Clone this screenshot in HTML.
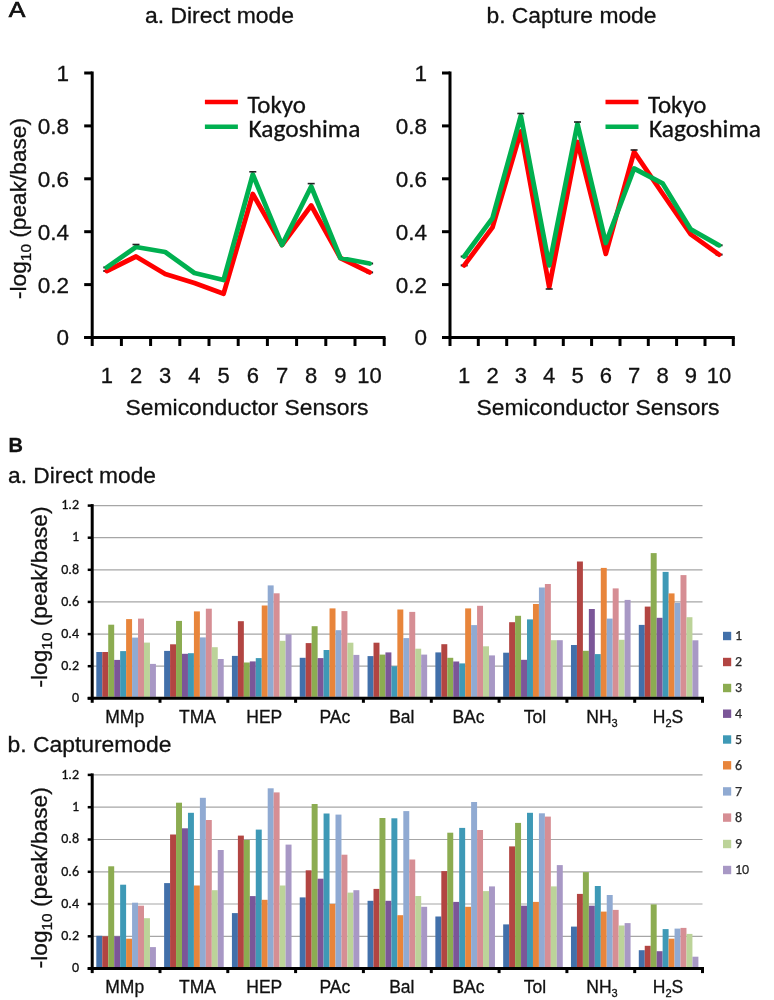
<!DOCTYPE html>
<html><head><meta charset="utf-8"><title>Figure</title>
<style>
html,body{margin:0;padding:0;background:#fff;}
body{width:774px;height:1000px;overflow:hidden;}
svg{display:block;}
</style></head>
<body>
<svg width="774" height="1000" viewBox="0 0 774 1000">
<rect width="774" height="1000" fill="#fff"/>
<text x="8.8" y="17.0" font-size="21.5" font-family='"Liberation Sans", Arial, sans-serif' text-anchor="start" fill="#111" textLength="16.6" lengthAdjust="spacingAndGlyphs" stroke="#111" stroke-width="0.7">A</text>
<line x1="92.2" y1="71.5" x2="92.2" y2="346" stroke="#000" stroke-width="3"/>
<line x1="84.2" y1="337.5" x2="385.5" y2="337.5" stroke="#000" stroke-width="3"/>
<line x1="84.2" y1="337.5" x2="92.2" y2="337.5" stroke="#000" stroke-width="3"/>
<text x="69.0" y="345.4" font-size="22.5" font-family='"Liberation Sans", Arial, sans-serif' text-anchor="end" fill="#111" stroke="#111" stroke-width="0.3">0</text>
<line x1="84.2" y1="284.6" x2="92.2" y2="284.6" stroke="#000" stroke-width="3"/>
<text x="69.0" y="292.5" font-size="22.5" font-family='"Liberation Sans", Arial, sans-serif' text-anchor="end" fill="#111" stroke="#111" stroke-width="0.3">0.2</text>
<line x1="84.2" y1="231.7" x2="92.2" y2="231.7" stroke="#000" stroke-width="3"/>
<text x="69.0" y="239.6" font-size="22.5" font-family='"Liberation Sans", Arial, sans-serif' text-anchor="end" fill="#111" stroke="#111" stroke-width="0.3">0.4</text>
<line x1="84.2" y1="178.8" x2="92.2" y2="178.8" stroke="#000" stroke-width="3"/>
<text x="69.0" y="186.7" font-size="22.5" font-family='"Liberation Sans", Arial, sans-serif' text-anchor="end" fill="#111" stroke="#111" stroke-width="0.3">0.6</text>
<line x1="84.2" y1="125.9" x2="92.2" y2="125.9" stroke="#000" stroke-width="3"/>
<text x="69.0" y="133.8" font-size="22.5" font-family='"Liberation Sans", Arial, sans-serif' text-anchor="end" fill="#111" stroke="#111" stroke-width="0.3">0.8</text>
<line x1="84.2" y1="73.0" x2="92.2" y2="73.0" stroke="#000" stroke-width="3"/>
<text x="69.0" y="80.9" font-size="22.5" font-family='"Liberation Sans", Arial, sans-serif' text-anchor="end" fill="#111" stroke="#111" stroke-width="0.3">1</text>
<line x1="121.4" y1="337.5" x2="121.4" y2="346" stroke="#000" stroke-width="3"/>
<line x1="150.6" y1="337.5" x2="150.6" y2="346" stroke="#000" stroke-width="3"/>
<line x1="179.8" y1="337.5" x2="179.8" y2="346" stroke="#000" stroke-width="3"/>
<line x1="209.0" y1="337.5" x2="209.0" y2="346" stroke="#000" stroke-width="3"/>
<line x1="238.2" y1="337.5" x2="238.2" y2="346" stroke="#000" stroke-width="3"/>
<line x1="267.4" y1="337.5" x2="267.4" y2="346" stroke="#000" stroke-width="3"/>
<line x1="296.6" y1="337.5" x2="296.6" y2="346" stroke="#000" stroke-width="3"/>
<line x1="325.8" y1="337.5" x2="325.8" y2="346" stroke="#000" stroke-width="3"/>
<line x1="355.0" y1="337.5" x2="355.0" y2="346" stroke="#000" stroke-width="3"/>
<line x1="384.2" y1="337.5" x2="384.2" y2="346" stroke="#000" stroke-width="3"/>
<text x="106.8" y="383.0" font-size="22" font-family='"Liberation Sans", Arial, sans-serif' text-anchor="middle" fill="#111" stroke="#111" stroke-width="0.3">1</text>
<text x="136.0" y="383.0" font-size="22" font-family='"Liberation Sans", Arial, sans-serif' text-anchor="middle" fill="#111" stroke="#111" stroke-width="0.3">2</text>
<text x="165.2" y="383.0" font-size="22" font-family='"Liberation Sans", Arial, sans-serif' text-anchor="middle" fill="#111" stroke="#111" stroke-width="0.3">3</text>
<text x="194.4" y="383.0" font-size="22" font-family='"Liberation Sans", Arial, sans-serif' text-anchor="middle" fill="#111" stroke="#111" stroke-width="0.3">4</text>
<text x="223.6" y="383.0" font-size="22" font-family='"Liberation Sans", Arial, sans-serif' text-anchor="middle" fill="#111" stroke="#111" stroke-width="0.3">5</text>
<text x="252.8" y="383.0" font-size="22" font-family='"Liberation Sans", Arial, sans-serif' text-anchor="middle" fill="#111" stroke="#111" stroke-width="0.3">6</text>
<text x="282.0" y="383.0" font-size="22" font-family='"Liberation Sans", Arial, sans-serif' text-anchor="middle" fill="#111" stroke="#111" stroke-width="0.3">7</text>
<text x="311.2" y="383.0" font-size="22" font-family='"Liberation Sans", Arial, sans-serif' text-anchor="middle" fill="#111" stroke="#111" stroke-width="0.3">8</text>
<text x="340.4" y="383.0" font-size="22" font-family='"Liberation Sans", Arial, sans-serif' text-anchor="middle" fill="#111" stroke="#111" stroke-width="0.3">9</text>
<text x="369.6" y="383.0" font-size="22" font-family='"Liberation Sans", Arial, sans-serif' text-anchor="middle" fill="#111" stroke="#111" stroke-width="0.3">10</text>
<line x1="103.3" y1="271.0" x2="110.3" y2="271.0" stroke="#222" stroke-width="2"/>
<line x1="366.1" y1="272.4" x2="373.1" y2="272.4" stroke="#222" stroke-width="2"/>
<line x1="103.3" y1="267.4" x2="110.3" y2="267.4" stroke="#222" stroke-width="2"/>
<line x1="366.1" y1="263.5" x2="373.1" y2="263.5" stroke="#222" stroke-width="2"/>
<polyline points="106.8,271.0 136.0,256.5 165.2,274.0 194.4,283.0 223.6,293.7 252.8,194.0 282.0,245.0 311.2,205.5 340.4,258.0 369.6,272.4" fill="none" stroke="#FF0000" stroke-width="4.8" stroke-linejoin="round" stroke-linecap="round"/>
<polyline points="106.8,267.4 136.0,247.0 165.2,252.0 194.4,273.0 223.6,280.0 252.8,174.5 282.0,245.0 311.2,186.5 340.4,258.0 369.6,263.5" fill="none" stroke="#00B050" stroke-width="4.8" stroke-linejoin="round" stroke-linecap="round"/>
<line x1="249.3" y1="171.8" x2="256.3" y2="171.8" stroke="#222" stroke-width="1.6"/>
<line x1="307.7" y1="183.6" x2="314.7" y2="183.6" stroke="#222" stroke-width="1.6"/>
<line x1="132.5" y1="244.5" x2="139.5" y2="244.5" stroke="#222" stroke-width="1.6"/>
<line x1="204.9" y1="102.1" x2="237.9" y2="102.1" stroke="#FF0000" stroke-width="4.5"/>
<line x1="204.9" y1="126.7" x2="237.9" y2="126.7" stroke="#00B050" stroke-width="4.5"/>
<text x="247.4" y="112.5" font-size="24" font-family='Carlito, Calibri, "Liberation Sans", sans-serif' text-anchor="start" fill="#111" stroke="#111" stroke-width="0.3" textLength="58.5" lengthAdjust="spacingAndGlyphs">Tokyo</text>
<text x="248.4" y="136.6" font-size="24" font-family='Carlito, Calibri, "Liberation Sans", sans-serif' text-anchor="start" fill="#111" stroke="#111" stroke-width="0.3" textLength="112.0" lengthAdjust="spacingAndGlyphs">Kagoshima</text>
<text x="145.0" y="22.5" font-size="22" font-family='"Liberation Sans", Arial, sans-serif' text-anchor="start" fill="#111" stroke="#111" stroke-width="0.3" textLength="149.0" lengthAdjust="spacingAndGlyphs">a. Direct mode</text>
<text x="125.5" y="415.0" font-size="22.3" font-family='"Liberation Sans", Arial, sans-serif' text-anchor="start" fill="#111" stroke="#111" stroke-width="0.3" textLength="243.0" lengthAdjust="spacingAndGlyphs">Semiconductor Sensors</text>
<line x1="450.0" y1="71.5" x2="450.0" y2="346" stroke="#000" stroke-width="3"/>
<line x1="442.0" y1="337.5" x2="734.8" y2="337.5" stroke="#000" stroke-width="3"/>
<line x1="442.0" y1="337.5" x2="450.0" y2="337.5" stroke="#000" stroke-width="3"/>
<text x="427.0" y="345.4" font-size="22.5" font-family='"Liberation Sans", Arial, sans-serif' text-anchor="end" fill="#111" stroke="#111" stroke-width="0.3">0</text>
<line x1="442.0" y1="284.6" x2="450.0" y2="284.6" stroke="#000" stroke-width="3"/>
<text x="427.0" y="292.5" font-size="22.5" font-family='"Liberation Sans", Arial, sans-serif' text-anchor="end" fill="#111" stroke="#111" stroke-width="0.3">0.2</text>
<line x1="442.0" y1="231.7" x2="450.0" y2="231.7" stroke="#000" stroke-width="3"/>
<text x="427.0" y="239.6" font-size="22.5" font-family='"Liberation Sans", Arial, sans-serif' text-anchor="end" fill="#111" stroke="#111" stroke-width="0.3">0.4</text>
<line x1="442.0" y1="178.8" x2="450.0" y2="178.8" stroke="#000" stroke-width="3"/>
<text x="427.0" y="186.7" font-size="22.5" font-family='"Liberation Sans", Arial, sans-serif' text-anchor="end" fill="#111" stroke="#111" stroke-width="0.3">0.6</text>
<line x1="442.0" y1="125.9" x2="450.0" y2="125.9" stroke="#000" stroke-width="3"/>
<text x="427.0" y="133.8" font-size="22.5" font-family='"Liberation Sans", Arial, sans-serif' text-anchor="end" fill="#111" stroke="#111" stroke-width="0.3">0.8</text>
<line x1="442.0" y1="73.0" x2="450.0" y2="73.0" stroke="#000" stroke-width="3"/>
<text x="427.0" y="80.9" font-size="22.5" font-family='"Liberation Sans", Arial, sans-serif' text-anchor="end" fill="#111" stroke="#111" stroke-width="0.3">1</text>
<line x1="478.3" y1="337.5" x2="478.3" y2="346" stroke="#000" stroke-width="3"/>
<line x1="506.7" y1="337.5" x2="506.7" y2="346" stroke="#000" stroke-width="3"/>
<line x1="535.0" y1="337.5" x2="535.0" y2="346" stroke="#000" stroke-width="3"/>
<line x1="563.3" y1="337.5" x2="563.3" y2="346" stroke="#000" stroke-width="3"/>
<line x1="591.6" y1="337.5" x2="591.6" y2="346" stroke="#000" stroke-width="3"/>
<line x1="620.0" y1="337.5" x2="620.0" y2="346" stroke="#000" stroke-width="3"/>
<line x1="648.3" y1="337.5" x2="648.3" y2="346" stroke="#000" stroke-width="3"/>
<line x1="676.6" y1="337.5" x2="676.6" y2="346" stroke="#000" stroke-width="3"/>
<line x1="705.0" y1="337.5" x2="705.0" y2="346" stroke="#000" stroke-width="3"/>
<line x1="733.3" y1="337.5" x2="733.3" y2="346" stroke="#000" stroke-width="3"/>
<text x="464.2" y="383.0" font-size="22" font-family='"Liberation Sans", Arial, sans-serif' text-anchor="middle" fill="#111" stroke="#111" stroke-width="0.3">1</text>
<text x="492.5" y="383.0" font-size="22" font-family='"Liberation Sans", Arial, sans-serif' text-anchor="middle" fill="#111" stroke="#111" stroke-width="0.3">2</text>
<text x="520.8" y="383.0" font-size="22" font-family='"Liberation Sans", Arial, sans-serif' text-anchor="middle" fill="#111" stroke="#111" stroke-width="0.3">3</text>
<text x="549.2" y="383.0" font-size="22" font-family='"Liberation Sans", Arial, sans-serif' text-anchor="middle" fill="#111" stroke="#111" stroke-width="0.3">4</text>
<text x="577.5" y="383.0" font-size="22" font-family='"Liberation Sans", Arial, sans-serif' text-anchor="middle" fill="#111" stroke="#111" stroke-width="0.3">5</text>
<text x="605.8" y="383.0" font-size="22" font-family='"Liberation Sans", Arial, sans-serif' text-anchor="middle" fill="#111" stroke="#111" stroke-width="0.3">6</text>
<text x="634.1" y="383.0" font-size="22" font-family='"Liberation Sans", Arial, sans-serif' text-anchor="middle" fill="#111" stroke="#111" stroke-width="0.3">7</text>
<text x="662.5" y="383.0" font-size="22" font-family='"Liberation Sans", Arial, sans-serif' text-anchor="middle" fill="#111" stroke="#111" stroke-width="0.3">8</text>
<text x="690.8" y="383.0" font-size="22" font-family='"Liberation Sans", Arial, sans-serif' text-anchor="middle" fill="#111" stroke="#111" stroke-width="0.3">9</text>
<text x="719.1" y="383.0" font-size="22" font-family='"Liberation Sans", Arial, sans-serif' text-anchor="middle" fill="#111" stroke="#111" stroke-width="0.3">10</text>
<line x1="460.7" y1="265.4" x2="467.7" y2="265.4" stroke="#222" stroke-width="2"/>
<line x1="715.6" y1="254.6" x2="722.6" y2="254.6" stroke="#222" stroke-width="2"/>
<line x1="460.7" y1="256.5" x2="467.7" y2="256.5" stroke="#222" stroke-width="2"/>
<line x1="715.6" y1="245.3" x2="722.6" y2="245.3" stroke="#222" stroke-width="2"/>
<polyline points="464.2,265.4 492.5,227.4 520.8,131.4 549.2,287.0 577.5,142.0 605.8,253.8 634.1,151.9 662.5,193.5 690.8,234.4 719.1,254.6" fill="none" stroke="#FF0000" stroke-width="4.8" stroke-linejoin="round" stroke-linecap="round"/>
<polyline points="464.2,256.5 492.5,218.1 520.8,116.0 549.2,265.4 577.5,124.0 605.8,243.0 634.1,168.5 662.5,183.3 690.8,229.4 719.1,245.3" fill="none" stroke="#00B050" stroke-width="4.8" stroke-linejoin="round" stroke-linecap="round"/>
<line x1="517.3" y1="113.5" x2="524.3" y2="113.5" stroke="#222" stroke-width="1.6"/>
<line x1="574.0" y1="122.0" x2="581.0" y2="122.0" stroke="#222" stroke-width="1.6"/>
<line x1="630.6" y1="150.0" x2="637.6" y2="150.0" stroke="#222" stroke-width="1.6"/>
<line x1="545.7" y1="289.0" x2="552.7" y2="289.0" stroke="#222" stroke-width="1.6"/>
<line x1="605.5" y1="102.1" x2="638.5" y2="102.1" stroke="#FF0000" stroke-width="4.5"/>
<line x1="605.5" y1="126.7" x2="638.5" y2="126.7" stroke="#00B050" stroke-width="4.5"/>
<text x="648.0" y="112.5" font-size="24" font-family='Carlito, Calibri, "Liberation Sans", sans-serif' text-anchor="start" fill="#111" stroke="#111" stroke-width="0.3" textLength="58.5" lengthAdjust="spacingAndGlyphs">Tokyo</text>
<text x="649.0" y="136.6" font-size="24" font-family='Carlito, Calibri, "Liberation Sans", sans-serif' text-anchor="start" fill="#111" stroke="#111" stroke-width="0.3" textLength="112.0" lengthAdjust="spacingAndGlyphs">Kagoshima</text>
<text x="486.5" y="22.5" font-size="22" font-family='"Liberation Sans", Arial, sans-serif' text-anchor="start" fill="#111" stroke="#111" stroke-width="0.3" textLength="170.0" lengthAdjust="spacingAndGlyphs">b. Capture mode</text>
<text x="476.5" y="415.0" font-size="22.3" font-family='"Liberation Sans", Arial, sans-serif' text-anchor="start" fill="#111" stroke="#111" stroke-width="0.3" textLength="243.0" lengthAdjust="spacingAndGlyphs">Semiconductor Sensors</text>
<text transform="translate(25.9,208.5) rotate(-90)" x="0" y="0" font-size="22.5" font-family='"Liberation Sans", Arial, sans-serif' text-anchor="middle" fill="#111" stroke="#111" stroke-width="0.3" textLength="181.0" lengthAdjust="spacingAndGlyphs">-log<tspan font-size="15.3" dy="5">10</tspan><tspan dy="-5"> (peak/base)</tspan></text>
<text x="8.5" y="451.9" font-size="20" font-family='"Liberation Sans", Arial, sans-serif' text-anchor="start" fill="#111" stroke="#111" stroke-width="0.3" font-weight="bold">B</text>
<text x="8.0" y="482.5" font-size="22" font-family='"Liberation Sans", Arial, sans-serif' text-anchor="start" fill="#111" stroke="#111" stroke-width="0.3" textLength="148.0" lengthAdjust="spacingAndGlyphs">a. Direct mode</text>
<line x1="92.2" y1="666.2" x2="702.5" y2="666.2" stroke="#A6A6A6" stroke-width="1.2"/>
<line x1="92.2" y1="634.1" x2="702.5" y2="634.1" stroke="#A6A6A6" stroke-width="1.2"/>
<line x1="92.2" y1="601.9" x2="702.5" y2="601.9" stroke="#A6A6A6" stroke-width="1.2"/>
<line x1="92.2" y1="569.8" x2="702.5" y2="569.8" stroke="#A6A6A6" stroke-width="1.2"/>
<line x1="92.2" y1="537.7" x2="702.5" y2="537.7" stroke="#A6A6A6" stroke-width="1.2"/>
<line x1="92.2" y1="505.6" x2="702.5" y2="505.6" stroke="#A6A6A6" stroke-width="1.2"/>
<rect x="96.31" y="652.0" width="5.96" height="44.8" fill="#4270AA"/>
<rect x="102.27" y="652.0" width="5.96" height="44.8" fill="#B24542"/>
<rect x="108.23" y="624.7" width="5.96" height="72.1" fill="#8CAC51"/>
<rect x="114.19" y="659.9" width="5.96" height="36.9" fill="#7B5698"/>
<rect x="120.15" y="651.1" width="5.96" height="45.7" fill="#3E99B6"/>
<rect x="126.11" y="619.1" width="5.96" height="77.7" fill="#E8853B"/>
<rect x="132.07" y="637.6" width="5.96" height="59.2" fill="#90AAD2"/>
<rect x="138.03" y="618.6" width="5.96" height="78.2" fill="#D68E94"/>
<rect x="143.99" y="642.6" width="5.96" height="54.2" fill="#BCD399"/>
<rect x="149.95" y="663.9" width="5.96" height="32.9" fill="#A898C5"/>
<rect x="164.12" y="650.9" width="5.96" height="45.9" fill="#4270AA"/>
<rect x="170.08" y="644.3" width="5.96" height="52.5" fill="#B24542"/>
<rect x="176.04" y="620.9" width="5.96" height="75.9" fill="#8CAC51"/>
<rect x="182.00" y="653.8" width="5.96" height="43.0" fill="#7B5698"/>
<rect x="187.96" y="653.2" width="5.96" height="43.6" fill="#3E99B6"/>
<rect x="193.92" y="611.4" width="5.96" height="85.4" fill="#E8853B"/>
<rect x="199.88" y="637.4" width="5.96" height="59.4" fill="#90AAD2"/>
<rect x="205.84" y="608.7" width="5.96" height="88.1" fill="#D68E94"/>
<rect x="211.80" y="647.2" width="5.96" height="49.6" fill="#BCD399"/>
<rect x="217.76" y="659.0" width="5.96" height="37.8" fill="#A898C5"/>
<rect x="231.93" y="655.9" width="5.96" height="40.9" fill="#4270AA"/>
<rect x="237.89" y="621.2" width="5.96" height="75.6" fill="#B24542"/>
<rect x="243.85" y="662.5" width="5.96" height="34.3" fill="#8CAC51"/>
<rect x="249.81" y="661.4" width="5.96" height="35.4" fill="#7B5698"/>
<rect x="255.77" y="658.1" width="5.96" height="38.6" fill="#3E99B6"/>
<rect x="261.73" y="605.5" width="5.96" height="91.3" fill="#E8853B"/>
<rect x="267.69" y="585.4" width="5.96" height="111.4" fill="#90AAD2"/>
<rect x="273.65" y="593.3" width="5.96" height="103.5" fill="#D68E94"/>
<rect x="279.61" y="640.8" width="5.96" height="56.0" fill="#BCD399"/>
<rect x="285.57" y="634.4" width="5.96" height="62.4" fill="#A898C5"/>
<rect x="299.74" y="657.8" width="5.96" height="39.0" fill="#4270AA"/>
<rect x="305.70" y="643.1" width="5.96" height="53.7" fill="#B24542"/>
<rect x="311.66" y="626.2" width="5.96" height="70.6" fill="#8CAC51"/>
<rect x="317.62" y="658.1" width="5.96" height="38.6" fill="#7B5698"/>
<rect x="323.58" y="650.0" width="5.96" height="46.8" fill="#3E99B6"/>
<rect x="329.54" y="608.4" width="5.96" height="88.4" fill="#E8853B"/>
<rect x="335.50" y="630.2" width="5.96" height="66.6" fill="#90AAD2"/>
<rect x="341.46" y="611.1" width="5.96" height="85.7" fill="#D68E94"/>
<rect x="347.42" y="642.7" width="5.96" height="54.1" fill="#BCD399"/>
<rect x="353.38" y="654.9" width="5.96" height="41.9" fill="#A898C5"/>
<rect x="367.55" y="656.1" width="5.96" height="40.7" fill="#4270AA"/>
<rect x="373.51" y="642.7" width="5.96" height="54.1" fill="#B24542"/>
<rect x="379.47" y="654.6" width="5.96" height="42.2" fill="#8CAC51"/>
<rect x="385.43" y="652.4" width="5.96" height="44.4" fill="#7B5698"/>
<rect x="391.39" y="666.2" width="5.96" height="30.6" fill="#3E99B6"/>
<rect x="397.35" y="609.5" width="5.96" height="87.3" fill="#E8853B"/>
<rect x="403.31" y="638.1" width="5.96" height="58.7" fill="#90AAD2"/>
<rect x="409.27" y="611.9" width="5.96" height="84.9" fill="#D68E94"/>
<rect x="415.23" y="648.7" width="5.96" height="48.1" fill="#BCD399"/>
<rect x="421.19" y="654.6" width="5.96" height="42.2" fill="#A898C5"/>
<rect x="435.36" y="652.4" width="5.96" height="44.4" fill="#4270AA"/>
<rect x="441.32" y="644.2" width="5.96" height="52.6" fill="#B24542"/>
<rect x="447.28" y="657.8" width="5.96" height="39.0" fill="#8CAC51"/>
<rect x="453.24" y="661.5" width="5.96" height="35.3" fill="#7B5698"/>
<rect x="459.20" y="663.4" width="5.96" height="33.4" fill="#3E99B6"/>
<rect x="465.16" y="608.4" width="5.96" height="88.4" fill="#E8853B"/>
<rect x="471.12" y="625.1" width="5.96" height="71.7" fill="#90AAD2"/>
<rect x="477.08" y="605.8" width="5.96" height="91.0" fill="#D68E94"/>
<rect x="483.04" y="646.3" width="5.96" height="50.5" fill="#BCD399"/>
<rect x="489.00" y="655.4" width="5.96" height="41.4" fill="#A898C5"/>
<rect x="503.17" y="652.7" width="5.96" height="44.1" fill="#4270AA"/>
<rect x="509.13" y="622.2" width="5.96" height="74.6" fill="#B24542"/>
<rect x="515.09" y="615.8" width="5.96" height="81.0" fill="#8CAC51"/>
<rect x="521.05" y="659.8" width="5.96" height="37.0" fill="#7B5698"/>
<rect x="527.01" y="619.4" width="5.96" height="77.4" fill="#3E99B6"/>
<rect x="532.97" y="604.0" width="5.96" height="92.8" fill="#E8853B"/>
<rect x="538.93" y="587.5" width="5.96" height="109.3" fill="#90AAD2"/>
<rect x="544.89" y="584.0" width="5.96" height="112.8" fill="#D68E94"/>
<rect x="550.85" y="640.2" width="5.96" height="56.6" fill="#BCD399"/>
<rect x="556.81" y="640.2" width="5.96" height="56.6" fill="#A898C5"/>
<rect x="570.98" y="645.0" width="5.96" height="51.8" fill="#4270AA"/>
<rect x="576.94" y="561.5" width="5.96" height="135.3" fill="#B24542"/>
<rect x="582.90" y="650.8" width="5.96" height="46.0" fill="#8CAC51"/>
<rect x="588.86" y="609.0" width="5.96" height="87.8" fill="#7B5698"/>
<rect x="594.82" y="654.1" width="5.96" height="42.7" fill="#3E99B6"/>
<rect x="600.78" y="567.9" width="5.96" height="128.9" fill="#E8853B"/>
<rect x="606.74" y="618.6" width="5.96" height="78.2" fill="#90AAD2"/>
<rect x="612.70" y="588.4" width="5.96" height="108.4" fill="#D68E94"/>
<rect x="618.66" y="639.8" width="5.96" height="57.0" fill="#BCD399"/>
<rect x="624.62" y="599.9" width="5.96" height="96.9" fill="#A898C5"/>
<rect x="638.79" y="624.9" width="5.96" height="71.9" fill="#4270AA"/>
<rect x="644.75" y="606.6" width="5.96" height="90.2" fill="#B24542"/>
<rect x="650.71" y="553.1" width="5.96" height="143.7" fill="#8CAC51"/>
<rect x="656.67" y="617.8" width="5.96" height="79.0" fill="#7B5698"/>
<rect x="662.63" y="571.9" width="5.96" height="124.9" fill="#3E99B6"/>
<rect x="668.59" y="593.4" width="5.96" height="103.4" fill="#E8853B"/>
<rect x="674.55" y="602.9" width="5.96" height="93.9" fill="#90AAD2"/>
<rect x="680.51" y="575.1" width="5.96" height="121.7" fill="#D68E94"/>
<rect x="686.47" y="617.2" width="5.96" height="79.6" fill="#BCD399"/>
<rect x="692.43" y="640.3" width="5.96" height="56.5" fill="#A898C5"/>
<line x1="92.2" y1="504.1" x2="92.2" y2="702.8" stroke="#000" stroke-width="3"/>
<line x1="87.7" y1="698.3" x2="704.0" y2="698.3" stroke="#000" stroke-width="3"/>
<line x1="87.7" y1="698.3" x2="92.2" y2="698.3" stroke="#000" stroke-width="2.5"/>
<text x="79.0" y="702.0" font-size="14" font-family='Carlito, Calibri, "Liberation Sans", sans-serif' text-anchor="end" fill="#111" stroke="#111" stroke-width="0.3">0</text>
<line x1="87.7" y1="666.2" x2="92.2" y2="666.2" stroke="#000" stroke-width="2.5"/>
<text x="79.0" y="669.9" font-size="14" font-family='Carlito, Calibri, "Liberation Sans", sans-serif' text-anchor="end" fill="#111" stroke="#111" stroke-width="0.3">0.2</text>
<line x1="87.7" y1="634.1" x2="92.2" y2="634.1" stroke="#000" stroke-width="2.5"/>
<text x="79.0" y="637.8" font-size="14" font-family='Carlito, Calibri, "Liberation Sans", sans-serif' text-anchor="end" fill="#111" stroke="#111" stroke-width="0.3">0.4</text>
<line x1="87.7" y1="601.9" x2="92.2" y2="601.9" stroke="#000" stroke-width="2.5"/>
<text x="79.0" y="605.6" font-size="14" font-family='Carlito, Calibri, "Liberation Sans", sans-serif' text-anchor="end" fill="#111" stroke="#111" stroke-width="0.3">0.6</text>
<line x1="87.7" y1="569.8" x2="92.2" y2="569.8" stroke="#000" stroke-width="2.5"/>
<text x="79.0" y="573.5" font-size="14" font-family='Carlito, Calibri, "Liberation Sans", sans-serif' text-anchor="end" fill="#111" stroke="#111" stroke-width="0.3">0.8</text>
<line x1="87.7" y1="537.7" x2="92.2" y2="537.7" stroke="#000" stroke-width="2.5"/>
<text x="79.0" y="541.4" font-size="14" font-family='Carlito, Calibri, "Liberation Sans", sans-serif' text-anchor="end" fill="#111" stroke="#111" stroke-width="0.3">1</text>
<line x1="87.7" y1="505.6" x2="92.2" y2="505.6" stroke="#000" stroke-width="2.5"/>
<text x="79.0" y="509.3" font-size="14" font-family='Carlito, Calibri, "Liberation Sans", sans-serif' text-anchor="end" fill="#111" stroke="#111" stroke-width="0.3">1.2</text>
<line x1="160.0" y1="698.3" x2="160.0" y2="702.8" stroke="#000" stroke-width="3"/>
<line x1="227.8" y1="698.3" x2="227.8" y2="702.8" stroke="#000" stroke-width="3"/>
<line x1="295.6" y1="698.3" x2="295.6" y2="702.8" stroke="#000" stroke-width="3"/>
<line x1="363.4" y1="698.3" x2="363.4" y2="702.8" stroke="#000" stroke-width="3"/>
<line x1="431.3" y1="698.3" x2="431.3" y2="702.8" stroke="#000" stroke-width="3"/>
<line x1="499.1" y1="698.3" x2="499.1" y2="702.8" stroke="#000" stroke-width="3"/>
<line x1="566.9" y1="698.3" x2="566.9" y2="702.8" stroke="#000" stroke-width="3"/>
<line x1="634.7" y1="698.3" x2="634.7" y2="702.8" stroke="#000" stroke-width="3"/>
<line x1="702.5" y1="698.3" x2="702.5" y2="702.8" stroke="#000" stroke-width="3"/>
<text x="124.7" y="723.2" font-size="17.5" font-family='"Liberation Sans", Arial, sans-serif' text-anchor="middle" fill="#111" stroke="#111" stroke-width="0.3">MMp</text>
<text x="197.5" y="723.2" font-size="17.5" font-family='"Liberation Sans", Arial, sans-serif' text-anchor="middle" fill="#111" stroke="#111" stroke-width="0.3">TMA</text>
<text x="264.3" y="723.2" font-size="17.5" font-family='"Liberation Sans", Arial, sans-serif' text-anchor="middle" fill="#111" stroke="#111" stroke-width="0.3">HEP</text>
<text x="334.9" y="723.2" font-size="17.5" font-family='"Liberation Sans", Arial, sans-serif' text-anchor="middle" fill="#111" stroke="#111" stroke-width="0.3">PAc</text>
<text x="401.8" y="723.2" font-size="17.5" font-family='"Liberation Sans", Arial, sans-serif' text-anchor="middle" fill="#111" stroke="#111" stroke-width="0.3">Bal</text>
<text x="468.5" y="723.2" font-size="17.5" font-family='"Liberation Sans", Arial, sans-serif' text-anchor="middle" fill="#111" stroke="#111" stroke-width="0.3">BAc</text>
<text x="535.0" y="723.2" font-size="17.5" font-family='"Liberation Sans", Arial, sans-serif' text-anchor="middle" fill="#111" stroke="#111" stroke-width="0.3">Tol</text>
<text x="602.0" y="723.2" font-size="17.5" font-family='"Liberation Sans", Arial, sans-serif' text-anchor="middle" fill="#111" stroke="#111" stroke-width="0.3">NH<tspan font-size="11" dy="4">3</tspan></text>
<text x="668.0" y="723.2" font-size="17.5" font-family='"Liberation Sans", Arial, sans-serif' text-anchor="middle" fill="#111" stroke="#111" stroke-width="0.3">H<tspan font-size="11" dy="4">2</tspan><tspan dy="-4">S</tspan></text>
<text transform="translate(46.9,597.0) rotate(-90)" x="0" y="0" font-size="22.5" font-family='"Liberation Sans", Arial, sans-serif' text-anchor="middle" fill="#111" stroke="#111" stroke-width="0.3" textLength="181.0" lengthAdjust="spacingAndGlyphs">-log<tspan font-size="15.3" dy="5">10</tspan><tspan dy="-5"> (peak/base)</tspan></text>
<text x="7.5" y="751.5" font-size="22" font-family='"Liberation Sans", Arial, sans-serif' text-anchor="start" fill="#111" stroke="#111" stroke-width="0.3" textLength="164.0" lengthAdjust="spacingAndGlyphs">b. Capturemode</text>
<line x1="92.2" y1="936.3" x2="702.5" y2="936.3" stroke="#A6A6A6" stroke-width="1.2"/>
<line x1="92.2" y1="904.0" x2="702.5" y2="904.0" stroke="#A6A6A6" stroke-width="1.2"/>
<line x1="92.2" y1="871.8" x2="702.5" y2="871.8" stroke="#A6A6A6" stroke-width="1.2"/>
<line x1="92.2" y1="839.5" x2="702.5" y2="839.5" stroke="#A6A6A6" stroke-width="1.2"/>
<line x1="92.2" y1="807.2" x2="702.5" y2="807.2" stroke="#A6A6A6" stroke-width="1.2"/>
<line x1="92.2" y1="774.9" x2="702.5" y2="774.9" stroke="#A6A6A6" stroke-width="1.2"/>
<rect x="96.31" y="935.8" width="5.96" height="31.3" fill="#4270AA"/>
<rect x="102.27" y="936.3" width="5.96" height="30.8" fill="#B24542"/>
<rect x="108.23" y="866.3" width="5.96" height="100.8" fill="#8CAC51"/>
<rect x="114.19" y="936.3" width="5.96" height="30.8" fill="#7B5698"/>
<rect x="120.15" y="884.7" width="5.96" height="82.4" fill="#3E99B6"/>
<rect x="126.11" y="938.7" width="5.96" height="28.4" fill="#E8853B"/>
<rect x="132.07" y="902.7" width="5.96" height="64.4" fill="#90AAD2"/>
<rect x="138.03" y="905.7" width="5.96" height="61.4" fill="#D68E94"/>
<rect x="143.99" y="918.2" width="5.96" height="48.9" fill="#BCD399"/>
<rect x="149.95" y="947.1" width="5.96" height="20.0" fill="#A898C5"/>
<rect x="164.12" y="883.1" width="5.96" height="84.0" fill="#4270AA"/>
<rect x="170.08" y="834.5" width="5.96" height="132.6" fill="#B24542"/>
<rect x="176.04" y="802.7" width="5.96" height="164.4" fill="#8CAC51"/>
<rect x="182.00" y="828.3" width="5.96" height="138.8" fill="#7B5698"/>
<rect x="187.96" y="812.8" width="5.96" height="154.3" fill="#3E99B6"/>
<rect x="193.92" y="885.5" width="5.96" height="81.6" fill="#E8853B"/>
<rect x="199.88" y="797.8" width="5.96" height="169.3" fill="#90AAD2"/>
<rect x="205.84" y="820.0" width="5.96" height="147.1" fill="#D68E94"/>
<rect x="211.80" y="890.2" width="5.96" height="76.9" fill="#BCD399"/>
<rect x="217.76" y="850.0" width="5.96" height="117.1" fill="#A898C5"/>
<rect x="231.93" y="913.1" width="5.96" height="54.0" fill="#4270AA"/>
<rect x="237.89" y="835.6" width="5.96" height="131.5" fill="#B24542"/>
<rect x="243.85" y="840.0" width="5.96" height="127.1" fill="#8CAC51"/>
<rect x="249.81" y="896.1" width="5.96" height="71.0" fill="#7B5698"/>
<rect x="255.77" y="829.6" width="5.96" height="137.5" fill="#3E99B6"/>
<rect x="261.73" y="899.8" width="5.96" height="67.3" fill="#E8853B"/>
<rect x="267.69" y="788.3" width="5.96" height="178.8" fill="#90AAD2"/>
<rect x="273.65" y="792.4" width="5.96" height="174.7" fill="#D68E94"/>
<rect x="279.61" y="885.5" width="5.96" height="81.6" fill="#BCD399"/>
<rect x="285.57" y="844.6" width="5.96" height="122.5" fill="#A898C5"/>
<rect x="299.74" y="897.4" width="5.96" height="69.7" fill="#4270AA"/>
<rect x="305.70" y="870.3" width="5.96" height="96.8" fill="#B24542"/>
<rect x="311.66" y="804.0" width="5.96" height="163.1" fill="#8CAC51"/>
<rect x="317.62" y="878.7" width="5.96" height="88.4" fill="#7B5698"/>
<rect x="323.58" y="813.5" width="5.96" height="153.6" fill="#3E99B6"/>
<rect x="329.54" y="903.9" width="5.96" height="63.2" fill="#E8853B"/>
<rect x="335.50" y="814.6" width="5.96" height="152.5" fill="#90AAD2"/>
<rect x="341.46" y="854.7" width="5.96" height="112.4" fill="#D68E94"/>
<rect x="347.42" y="892.6" width="5.96" height="74.5" fill="#BCD399"/>
<rect x="353.38" y="890.2" width="5.96" height="76.9" fill="#A898C5"/>
<rect x="367.55" y="900.8" width="5.96" height="66.3" fill="#4270AA"/>
<rect x="373.51" y="888.9" width="5.96" height="78.2" fill="#B24542"/>
<rect x="379.47" y="818.0" width="5.96" height="149.1" fill="#8CAC51"/>
<rect x="385.43" y="900.8" width="5.96" height="66.3" fill="#7B5698"/>
<rect x="391.39" y="818.3" width="5.96" height="148.8" fill="#3E99B6"/>
<rect x="397.35" y="915.2" width="5.96" height="51.9" fill="#E8853B"/>
<rect x="403.31" y="811.1" width="5.96" height="156.0" fill="#90AAD2"/>
<rect x="409.27" y="859.5" width="5.96" height="107.6" fill="#D68E94"/>
<rect x="415.23" y="896.0" width="5.96" height="71.1" fill="#BCD399"/>
<rect x="421.19" y="906.8" width="5.96" height="60.3" fill="#A898C5"/>
<rect x="435.36" y="916.5" width="5.96" height="50.6" fill="#4270AA"/>
<rect x="441.32" y="871.1" width="5.96" height="96.0" fill="#B24542"/>
<rect x="447.28" y="832.7" width="5.96" height="134.4" fill="#8CAC51"/>
<rect x="453.24" y="901.9" width="5.96" height="65.2" fill="#7B5698"/>
<rect x="459.20" y="827.9" width="5.96" height="139.2" fill="#3E99B6"/>
<rect x="465.16" y="906.8" width="5.96" height="60.3" fill="#E8853B"/>
<rect x="471.12" y="802.0" width="5.96" height="165.1" fill="#90AAD2"/>
<rect x="477.08" y="830.0" width="5.96" height="137.1" fill="#D68E94"/>
<rect x="483.04" y="891.1" width="5.96" height="76.0" fill="#BCD399"/>
<rect x="489.00" y="886.4" width="5.96" height="80.7" fill="#A898C5"/>
<rect x="503.17" y="924.4" width="5.96" height="42.7" fill="#4270AA"/>
<rect x="509.13" y="846.4" width="5.96" height="120.7" fill="#B24542"/>
<rect x="515.09" y="822.9" width="5.96" height="144.2" fill="#8CAC51"/>
<rect x="521.05" y="905.7" width="5.96" height="61.4" fill="#7B5698"/>
<rect x="527.01" y="812.8" width="5.96" height="154.3" fill="#3E99B6"/>
<rect x="532.97" y="901.9" width="5.96" height="65.2" fill="#E8853B"/>
<rect x="538.93" y="813.3" width="5.96" height="153.8" fill="#90AAD2"/>
<rect x="544.89" y="816.6" width="5.96" height="150.5" fill="#D68E94"/>
<rect x="550.85" y="886.4" width="5.96" height="80.7" fill="#BCD399"/>
<rect x="556.81" y="865.1" width="5.96" height="102.0" fill="#A898C5"/>
<rect x="570.98" y="926.6" width="5.96" height="40.5" fill="#4270AA"/>
<rect x="576.94" y="893.9" width="5.96" height="73.2" fill="#B24542"/>
<rect x="582.90" y="872.1" width="5.96" height="95.0" fill="#8CAC51"/>
<rect x="588.86" y="905.7" width="5.96" height="61.4" fill="#7B5698"/>
<rect x="594.82" y="886.0" width="5.96" height="81.1" fill="#3E99B6"/>
<rect x="600.78" y="911.6" width="5.96" height="55.5" fill="#E8853B"/>
<rect x="606.74" y="895.0" width="5.96" height="72.1" fill="#90AAD2"/>
<rect x="612.70" y="909.9" width="5.96" height="57.2" fill="#D68E94"/>
<rect x="618.66" y="925.5" width="5.96" height="41.6" fill="#BCD399"/>
<rect x="624.62" y="923.1" width="5.96" height="44.0" fill="#A898C5"/>
<rect x="638.79" y="950.2" width="5.96" height="16.9" fill="#4270AA"/>
<rect x="644.75" y="945.8" width="5.96" height="21.3" fill="#B24542"/>
<rect x="650.71" y="904.4" width="5.96" height="62.7" fill="#8CAC51"/>
<rect x="656.67" y="951.2" width="5.96" height="15.9" fill="#7B5698"/>
<rect x="662.63" y="929.1" width="5.96" height="38.0" fill="#3E99B6"/>
<rect x="668.59" y="938.7" width="5.96" height="28.4" fill="#E8853B"/>
<rect x="674.55" y="928.6" width="5.96" height="38.5" fill="#90AAD2"/>
<rect x="680.51" y="927.9" width="5.96" height="39.2" fill="#D68E94"/>
<rect x="686.47" y="933.9" width="5.96" height="33.2" fill="#BCD399"/>
<rect x="692.43" y="956.7" width="5.96" height="10.4" fill="#A898C5"/>
<line x1="92.2" y1="773.4" x2="92.2" y2="973.1" stroke="#000" stroke-width="3"/>
<line x1="87.7" y1="968.6" x2="704.0" y2="968.6" stroke="#000" stroke-width="3"/>
<line x1="87.7" y1="968.6" x2="92.2" y2="968.6" stroke="#000" stroke-width="2.5"/>
<text x="79.0" y="972.3" font-size="14" font-family='Carlito, Calibri, "Liberation Sans", sans-serif' text-anchor="end" fill="#111" stroke="#111" stroke-width="0.3">0</text>
<line x1="87.7" y1="936.3" x2="92.2" y2="936.3" stroke="#000" stroke-width="2.5"/>
<text x="79.0" y="940.0" font-size="14" font-family='Carlito, Calibri, "Liberation Sans", sans-serif' text-anchor="end" fill="#111" stroke="#111" stroke-width="0.3">0.2</text>
<line x1="87.7" y1="904.0" x2="92.2" y2="904.0" stroke="#000" stroke-width="2.5"/>
<text x="79.0" y="907.7" font-size="14" font-family='Carlito, Calibri, "Liberation Sans", sans-serif' text-anchor="end" fill="#111" stroke="#111" stroke-width="0.3">0.4</text>
<line x1="87.7" y1="871.8" x2="92.2" y2="871.8" stroke="#000" stroke-width="2.5"/>
<text x="79.0" y="875.5" font-size="14" font-family='Carlito, Calibri, "Liberation Sans", sans-serif' text-anchor="end" fill="#111" stroke="#111" stroke-width="0.3">0.6</text>
<line x1="87.7" y1="839.5" x2="92.2" y2="839.5" stroke="#000" stroke-width="2.5"/>
<text x="79.0" y="843.2" font-size="14" font-family='Carlito, Calibri, "Liberation Sans", sans-serif' text-anchor="end" fill="#111" stroke="#111" stroke-width="0.3">0.8</text>
<line x1="87.7" y1="807.2" x2="92.2" y2="807.2" stroke="#000" stroke-width="2.5"/>
<text x="79.0" y="810.9" font-size="14" font-family='Carlito, Calibri, "Liberation Sans", sans-serif' text-anchor="end" fill="#111" stroke="#111" stroke-width="0.3">1</text>
<line x1="87.7" y1="774.9" x2="92.2" y2="774.9" stroke="#000" stroke-width="2.5"/>
<text x="79.0" y="778.6" font-size="14" font-family='Carlito, Calibri, "Liberation Sans", sans-serif' text-anchor="end" fill="#111" stroke="#111" stroke-width="0.3">1.2</text>
<line x1="160.0" y1="968.6" x2="160.0" y2="973.1" stroke="#000" stroke-width="3"/>
<line x1="227.8" y1="968.6" x2="227.8" y2="973.1" stroke="#000" stroke-width="3"/>
<line x1="295.6" y1="968.6" x2="295.6" y2="973.1" stroke="#000" stroke-width="3"/>
<line x1="363.4" y1="968.6" x2="363.4" y2="973.1" stroke="#000" stroke-width="3"/>
<line x1="431.3" y1="968.6" x2="431.3" y2="973.1" stroke="#000" stroke-width="3"/>
<line x1="499.1" y1="968.6" x2="499.1" y2="973.1" stroke="#000" stroke-width="3"/>
<line x1="566.9" y1="968.6" x2="566.9" y2="973.1" stroke="#000" stroke-width="3"/>
<line x1="634.7" y1="968.6" x2="634.7" y2="973.1" stroke="#000" stroke-width="3"/>
<line x1="702.5" y1="968.6" x2="702.5" y2="973.1" stroke="#000" stroke-width="3"/>
<text x="124.7" y="993.2" font-size="17.5" font-family='"Liberation Sans", Arial, sans-serif' text-anchor="middle" fill="#111" stroke="#111" stroke-width="0.3">MMp</text>
<text x="197.5" y="993.2" font-size="17.5" font-family='"Liberation Sans", Arial, sans-serif' text-anchor="middle" fill="#111" stroke="#111" stroke-width="0.3">TMA</text>
<text x="264.3" y="993.2" font-size="17.5" font-family='"Liberation Sans", Arial, sans-serif' text-anchor="middle" fill="#111" stroke="#111" stroke-width="0.3">HEP</text>
<text x="334.9" y="993.2" font-size="17.5" font-family='"Liberation Sans", Arial, sans-serif' text-anchor="middle" fill="#111" stroke="#111" stroke-width="0.3">PAc</text>
<text x="401.8" y="993.2" font-size="17.5" font-family='"Liberation Sans", Arial, sans-serif' text-anchor="middle" fill="#111" stroke="#111" stroke-width="0.3">Bal</text>
<text x="468.5" y="993.2" font-size="17.5" font-family='"Liberation Sans", Arial, sans-serif' text-anchor="middle" fill="#111" stroke="#111" stroke-width="0.3">BAc</text>
<text x="535.0" y="993.2" font-size="17.5" font-family='"Liberation Sans", Arial, sans-serif' text-anchor="middle" fill="#111" stroke="#111" stroke-width="0.3">Tol</text>
<text x="602.0" y="993.2" font-size="17.5" font-family='"Liberation Sans", Arial, sans-serif' text-anchor="middle" fill="#111" stroke="#111" stroke-width="0.3">NH<tspan font-size="11" dy="4">3</tspan></text>
<text x="668.0" y="993.2" font-size="17.5" font-family='"Liberation Sans", Arial, sans-serif' text-anchor="middle" fill="#111" stroke="#111" stroke-width="0.3">H<tspan font-size="11" dy="4">2</tspan><tspan dy="-4">S</tspan></text>
<text transform="translate(47.0,877.8) rotate(-90)" x="0" y="0" font-size="22.5" font-family='"Liberation Sans", Arial, sans-serif' text-anchor="middle" fill="#111" stroke="#111" stroke-width="0.3" textLength="181.0" lengthAdjust="spacingAndGlyphs">-log<tspan font-size="15.3" dy="5">10</tspan><tspan dy="-5"> (peak/base)</tspan></text>
<rect x="723" y="631.8" width="8.2" height="8.4" fill="#4270AA"/>
<text x="735.0" y="640.3" font-size="14" font-family='Carlito, Calibri, "Liberation Sans", sans-serif' text-anchor="start" fill="#2a2a2a" stroke="#2a2a2a" stroke-width="0.25">1</text>
<rect x="723" y="657.8" width="8.2" height="8.4" fill="#B24542"/>
<text x="735.0" y="666.3" font-size="14" font-family='Carlito, Calibri, "Liberation Sans", sans-serif' text-anchor="start" fill="#2a2a2a" stroke="#2a2a2a" stroke-width="0.25">2</text>
<rect x="723" y="683.8" width="8.2" height="8.4" fill="#8CAC51"/>
<text x="735.0" y="692.3" font-size="14" font-family='Carlito, Calibri, "Liberation Sans", sans-serif' text-anchor="start" fill="#2a2a2a" stroke="#2a2a2a" stroke-width="0.25">3</text>
<rect x="723" y="709.5" width="8.2" height="8.4" fill="#7B5698"/>
<text x="735.0" y="718.0" font-size="14" font-family='Carlito, Calibri, "Liberation Sans", sans-serif' text-anchor="start" fill="#2a2a2a" stroke="#2a2a2a" stroke-width="0.25">4</text>
<rect x="723" y="735.3" width="8.2" height="8.4" fill="#3E99B6"/>
<text x="735.0" y="743.8" font-size="14" font-family='Carlito, Calibri, "Liberation Sans", sans-serif' text-anchor="start" fill="#2a2a2a" stroke="#2a2a2a" stroke-width="0.25">5</text>
<rect x="723" y="761.1" width="8.2" height="8.4" fill="#E8853B"/>
<text x="735.0" y="769.6" font-size="14" font-family='Carlito, Calibri, "Liberation Sans", sans-serif' text-anchor="start" fill="#2a2a2a" stroke="#2a2a2a" stroke-width="0.25">6</text>
<rect x="723" y="787.2" width="8.2" height="8.4" fill="#90AAD2"/>
<text x="735.0" y="795.7" font-size="14" font-family='Carlito, Calibri, "Liberation Sans", sans-serif' text-anchor="start" fill="#2a2a2a" stroke="#2a2a2a" stroke-width="0.25">7</text>
<rect x="723" y="813.4" width="8.2" height="8.4" fill="#D68E94"/>
<text x="735.0" y="821.9" font-size="14" font-family='Carlito, Calibri, "Liberation Sans", sans-serif' text-anchor="start" fill="#2a2a2a" stroke="#2a2a2a" stroke-width="0.25">8</text>
<rect x="723" y="839.8" width="8.2" height="8.4" fill="#BCD399"/>
<text x="735.0" y="848.3" font-size="14" font-family='Carlito, Calibri, "Liberation Sans", sans-serif' text-anchor="start" fill="#2a2a2a" stroke="#2a2a2a" stroke-width="0.25">9</text>
<rect x="723" y="865.8" width="8.2" height="8.4" fill="#A898C5"/>
<text x="735.0" y="874.3" font-size="14" font-family='Carlito, Calibri, "Liberation Sans", sans-serif' text-anchor="start" fill="#2a2a2a" stroke="#2a2a2a" stroke-width="0.25">10</text>
</svg>
</body></html>
